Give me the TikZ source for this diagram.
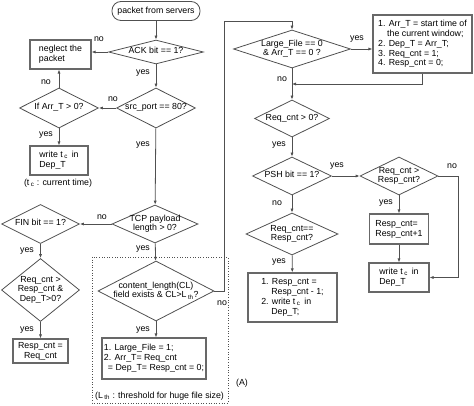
\documentclass[tikz,border=0pt]{standalone}
\usepackage{fontspec}
\setmainfont{Liberation Sans}
\usetikzlibrary{shapes.geometric,arrows.meta}
\definecolor{linegray}{HTML}{505050}
\definecolor{boxgray}{HTML}{686868}
\newcommand{\dtext}[1]{\makebox[0pt]{\begin{tabular}{@{}c@{}}#1\end{tabular}}}
\tikzset{
  flowline/.style={draw=linegray, line width=0.8pt},
  arr/.style={flowline, -{Latex[length=4pt,width=3.2pt]}},
  decision/.style 2 args={diamond, draw=linegray, line width=0.8pt, inner sep=0pt, minimum width=#1, minimum height=#2},
  stepbox/.style 2 args={rectangle, draw=boxgray, line width=1.2pt, inner sep=2pt, align=left, minimum width=#1, minimum height=#2},
  answer/.style={inner sep=0pt},
}
\begin{document}
\begin{tikzpicture}[x=1pt, y=-1pt, font=\fontsize{8.8}{9.8}\selectfont, text=black]
	\useasboundingbox (0,0) rectangle (474,406);
	% left part
	\node[draw=linegray, line width=0.8pt, rounded corners=9pt, minimum width=88pt, minimum height=19pt] (start) at (156,11) {packet from servers};
	\node[decision={95pt}{24pt}] (ack) at (156,52) {\dtext{ACK bit == 1?}};
	\node[stepbox={61pt}{29pt}] (neglect) at (60.5,54.5) {neglect the\\packet};
	\node[decision={79pt}{40pt}] (src) at (156,108) {\dtext{src\_port == 80?}};
	\node[decision={79pt}{40pt}] (arrt) at (59,108) {\dtext{If Arr\_T > 0?}};
	\node[stepbox={58pt}{29pt}] (write1) at (59,160.5) {write t\,\textsubscript{c}\,\ in\\Dep\_T};
	\node (tcnote) at (58,183) {(t\,\textsubscript{c} : current time)};
	\node[decision={86pt}{38pt}] (tcp) at (155,224) {\dtext{TCP payload\\length > 0?}};
	\node[decision={78pt}{39pt}] (fin) at (40.5,224) {\dtext{FIN bit == 1?}};
	\node[decision={78pt}{63pt}] (reqresp) at (40.5,290) {\dtext{Req\_cnt >\\Resp\_cnt \&\\Dep\_T>0?}};
	\node[stepbox={55pt}{24pt}, align=center] (respeq) at (40.5,351) {Resp\_cnt =\\Req\_cnt};
	% dotted block
	\draw[linegray, dotted, line width=0.6pt] (92,257) rectangle (228,403);
	\node[decision={116pt}{60pt}] (cl) at (156,291) {\dtext{content\_length(CL)\\field exists \& CL>L\,\textsubscript{th}?}};
	\node[stepbox={102pt}{41pt}] (large) at (154,358.5) {1. Large\_File = 1;\\2. Arr\_T= Req\_cnt\\\hspace*{4pt}= Dep\_T= Resp\_cnt = 0;};
	\node (lthnote) at (159.5,396) {(L\,\textsubscript{th} : threshold for huge file size)};
	% right part
	\node[decision={117pt}{38pt}] (lf) at (292,49) {\dtext{Large\_File == 0\\\& Arr\_T == 0 ?}};
	\node[stepbox={99pt}{58pt}] (init) at (422.5,44) {1. Arr\_T = start time of\\\hspace*{9pt}the current window;\\2. Dep\_T = Arr\_T;\\3. Req\_cnt = 1;\\4. Resp\_cnt = 0;};
	\node[decision={75pt}{37pt}] (reqgt) at (292,118.5) {\dtext{Req\_cnt > 0?}};
	\node[decision={79pt}{38pt}] (psh) at (292,176) {\dtext{PSH bit == 1?}};
	\node[decision={78pt}{38pt}] (rgr) at (399,176) {\dtext{Req\_cnt >\\Resp\_cnt?}};
	\node[stepbox={59pt}{30pt}] (inc) at (399,229) {Resp\_cnt=\\Resp\_cnt+1};
	\node[stepbox={60pt}{29pt}] (write2) at (399,277.5) {write t\,\textsubscript{c}\,\ in\\Dep\_T};
	\node[decision={92pt}{42pt}] (reqeq) at (292,234) {\dtext{Req\_cnt==\\Resp\_cnt?}};
	\node[stepbox={89pt}{49pt}] (dec) at (292.5,297.5) {1. Resp\_cnt =\\\hspace*{10pt}Resp\_cnt - 1;\\2. write t\,\textsubscript{c}\,\ in\\\hspace*{10pt}Dep\_T;};
	\node (tag) at (242,383) {(A)};
	% helper points
	\coordinate (loopR) at (224,21);
	\coordinate (merge) at (292,84);
	\coordinate (bendR) at (458,176);
	% connectors
	\draw[arr] (start) -- (ack);
	\draw[arr] (ack.west) -- (ack.west -| neglect.east);
	\draw[arr] (ack) -- (src);
	\draw[arr] (src) -- (arrt);
	\draw[arr] (arrt.north) -- (arrt.north |- neglect.south);
	\draw[arr] (arrt) -- (write1);
	\draw[arr] (src) -- (tcp);
	\draw[arr] (tcp) -- (fin);
	\draw[arr] (fin) -- (reqresp);
	\draw[arr] (reqresp) -- (respeq);
	\draw[arr] (tcp) -- (cl);
	\draw[arr] (cl.south) -- (cl.south |- large.north);
	\draw[arr] (cl.east) -| (loopR) -| (lf.north);
	\draw[arr] (lf.east) -- (lf.east -| init.west);
	\draw[arr] (init.south) |- (merge);
	\draw[arr] (lf) -- (reqgt);
	\draw[arr] (reqgt) -- (psh);
	\draw[arr] (psh) -- (rgr);
	\draw[arr] (rgr) -- (inc);
	\draw[arr] (inc) -- (write2);
	\draw[arr] (rgr.east) -- (bendR) |- (write2.east);
	\draw[arr] (psh) -- (reqeq);
	\draw[arr] (reqeq) -- (dec);
	% yes / no labels
	\node[answer] (a1) at (99,39) {no};
	\node[answer] (a2) at (143,73) {yes};
	\node[answer] (a3) at (113,99) {no};
	\node[answer] (a4) at (46,82) {no};
	\node[answer] (a5) at (46,135) {yes};
	\node[answer] (a6) at (143,145) {yes};
	\node[answer] (a7) at (102,217) {no};
	\node[answer] (a8) at (143,249) {yes};
	\node[answer] (a9) at (27,251) {yes};
	\node[answer] (a10) at (27,330) {yes};
	\node[answer] (a11) at (143,330) {yes};
	\node[answer] (a12) at (222,303) {no};
	\node[answer] (a13) at (357,39) {yes};
	\node[answer] (a14) at (282,79) {no};
	\node[answer] (a15) at (279,145) {yes};
	\node[answer] (a16) at (337,166) {yes};
	\node[answer] (a17) at (452,166) {no};
	\node[answer] (a18) at (386,203) {yes};
	\node[answer] (a19) at (277,203) {no};
	\node[answer] (a20) at (279,262) {yes};
\end{tikzpicture}
\end{document}
